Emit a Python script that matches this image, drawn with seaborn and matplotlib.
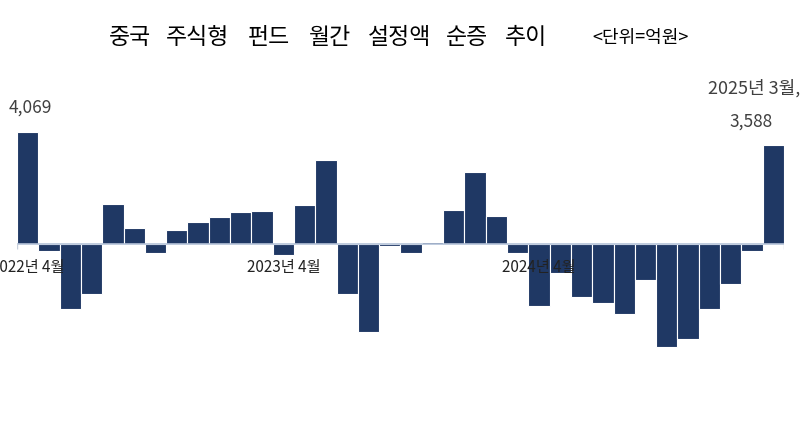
import matplotlib
matplotlib.use("Agg")
import matplotlib.pyplot as plt
import seaborn as sns
import pandas as pd

# 2022년 4월 ~ 2025년 3월 월간 설정액 순증 (억원)
months = list(pd.period_range("2022-04", "2025-03", freq="M").strftime("%Y-%m"))
values = [4069, -265, -2370, -1840, 1440, 580, -350, 510, 775, 980, 1150, 1175,
          -400, 1415, 3050, -1840, -3220, -95, -350, 75, 1210, 2615, 1005, -350,
          -2250, -1080, -1925, -2155, -2540, -1320, -3740, -3460, -2360, -1450, -255, 3588]
tick_pos = [0, 12, 24]
tick_labels = ["2022년 4월", "2023년 4월", "2024년 4월"]
title_words = ["중국", "주식형", "펀드", "월간", "설정액", "순증", "추이"]

sns.set_theme(style="white")
plt.rcParams['font.family'] = ['Noto Sans CJK KR', 'DejaVu Sans']

df = pd.DataFrame({"month": months, "value": values})

fig = plt.figure(figsize=(8, 4.24), dpi=100)
ax = fig.add_axes([17 / 800, 1 - 380 / 424, 767 / 800, 280 / 424])

sns.barplot(data=df, x="month", y="value", color="#1F3864", saturation=1,
            width=1.0, edgecolor="white", linewidth=0.8, ax=ax)

ax.set_xlim(-0.5, len(values) - 0.5)
ax.set_ylim(-4950, 5220)
ax.axhline(0, color="#B4C2D8", lw=1.2, zorder=3)
# 축 양 끝의 작은 눈금
ax.vlines([-0.5, len(values) - 0.5], -180, 0, color="#C8D0DC", lw=1, zorder=3)
for s in ax.spines.values():
    s.set_visible(False)
ax.set_xticks([])
ax.set_yticks([])
ax.set_xlabel("")
ax.set_ylabel("")

# 축 라벨 (막대 위에 겹쳐 그림)
for p, lab in zip(tick_pos, tick_labels):
    ax.annotate(lab, (p, 0), xytext=(0, -17), textcoords="offset points",
                ha="center", va="center", fontsize=11, color="#222222", zorder=5,
                annotation_clip=False)

# 데이터 레이블
ax.annotate(f"{values[0]:,}", (0, values[0]), xytext=(2, 17), textcoords="offset points",
            ha="center", va="center", fontsize=12.5, color="#404040", annotation_clip=False)
ax.annotate("2025년 3월,", (len(values) - 1, values[-1]), xytext=(-14, 41),
            textcoords="offset points", ha="center", va="center", fontsize=13,
            color="#404040", annotation_clip=False)
ax.annotate(f"{values[-1]:,}", (len(values) - 1, values[-1]), xytext=(-16, 17),
            textcoords="offset points", ha="center", va="center", fontsize=12.5,
            color="#404040", annotation_clip=False)

# 제목 (단어별 배치)
word_x = [130, 198, 269, 330, 400, 467, 526]
for wx, w in zip(word_x, title_words):
    fig.text(wx / 800, 1 - 37 / 424, w, ha="center", va="center", fontsize=16.5, color="black")
fig.text(641 / 800, 1 - 38 / 424, "<단위=억원>",
         ha="center", va="center", fontsize=13, color="black")

fig.savefig("out.png", dpi=100)
